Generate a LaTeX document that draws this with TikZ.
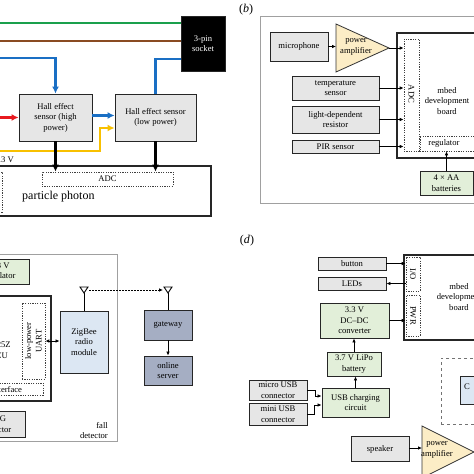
\documentclass[tikz,border=0pt]{standalone}
\usepackage{fontspec}
\setmainfont{Liberation Serif}
\usetikzlibrary{arrows.meta,calc}
\definecolor{boxgray}{HTML}{E6E6E6}
\definecolor{boxgreen}{HTML}{E2EFD9}
\definecolor{boxblue}{HTML}{DCE7F3}
\definecolor{ampyellow}{HTML}{FCEDC6}
\definecolor{slate}{HTML}{A5AEC3}
\definecolor{framegray}{HTML}{A0A0A0}
\definecolor{cgreen}{HTML}{1AA04C}
\definecolor{cbrown}{HTML}{8A4B22}
\definecolor{cblue}{HTML}{1A6FC4}
\definecolor{cred}{HTML}{E8191F}
\definecolor{cyellow}{HTML}{F8C000}
\newcommand\fsz{\fontsize{8.6}{10.5}\selectfont}
\newcommand\flg{\fontsize{12}{14}\selectfont}
\begin{document}
\begin{tikzpicture}[x=1pt,y=-1pt,
  box/.style={draw=black!85, line width=0.9pt, align=center, inner sep=1pt, font=\fsz},
  gbox/.style={box, fill=boxgray},
  grbox/.style={box, fill=boxgreen},
  bbox/.style={box, fill=boxblue},
  sz/.style 2 args={minimum width=#1pt, minimum height=#2pt},
  dotbox/.style={draw=black!75, dash pattern=on 1.2pt off 1.2pt, line width=0.7pt, inner sep=0pt},
  frame/.style={draw=framegray, line width=0.9pt, inner sep=0pt},
  txt/.style={font=\fsz, align=center, inner sep=0pt},
  wire/.style={line width=2.4pt},
  warr/.style={-{Latex[length=7pt,width=7pt]}},
  barr/.style={line width=2.2pt, -{Latex[length=7pt,width=7pt]}},
  arr/.style={line width=1pt, -{Latex[length=4pt,width=3.6pt]}},
  darr/.style={line width=1pt, {Latex[length=4pt,width=3.6pt]}-{Latex[length=4pt,width=3.6pt]}},
  dotarr/.style={line width=0.9pt, dash pattern=on 1.5pt off 1.5pt, -{Latex[length=4pt,width=3.6pt]}},
  antst/.style={draw=black, line width=0.9pt, fill=white},
  ampst/.style={draw=black!80, line width=0.8pt, fill=ampyellow}
]
\useasboundingbox (0,0) rectangle (474,474);
\clip (0,0) rectangle (474,474);
\fill[white] (0,0) rectangle (474,474);

% ---------------- panel (a) ----------------
\node[gbox, fill=black, text=white, sz={44}{55}] (socket) at (203,43.5) {3-pin\\socket};
\node[gbox, sz={73}{47}] (hallh) at (55.5,117.5) {Hall effect\\sensor (high\\power)};
\node[gbox, sz={81}{47}] (halll) at (155.5,117.5) {Hall effect sensor\\(low power)};
\node[box, line width=1.1pt, fill=white, sz={241}{50}] (photon) at (90.5,191) {};
\node[dotbox, sz={131}{14}, font=\fsz] (adca) at (107.5,179) {ADC};
\node[dotbox, sz={20}{40}] (leftdot) at (-8,192) {};
\node[font=\flg, anchor=west, inner sep=0pt] (pplabel) at (22,197) {particle photon};
\node[font=\fsz, anchor=east, inner sep=0pt] (v33) at (14,159.5) {3.3 V};

\coordinate (gin) at (-5,23);
\coordinate (brin) at (-5,41);
\coordinate (blin) at (-5,58);
\coordinate (rin) at (-5,117.5);
\coordinate (yin) at (-5,151);
\coordinate (ybend) at (100,151);
\draw[wire, cgreen] (gin) -- (gin -| socket.west);
\draw[wire, cbrown] (brin) -- (brin -| socket.west);
\draw[wire, cblue, warr] (blin) -| (hallh.north);
\draw[wire, cblue] (socket.west |- 0,59) -| (halll.north);
\draw[wire, cred, warr] (rin) -- (hallh.west);
\draw[wire, cblue, warr] (hallh.east |- 0,115.5) -- (halll.west |- 0,115.5);
\draw[wire, cyellow, warr] (yin) -- (ybend) |- (halll.west |- 0,128);
\draw[barr] (hallh.south) -- (hallh.south |- adca.north);
\draw[barr] (halll.south) -- (halll.south |- adca.north);

% ---------------- panel (b) ----------------
\node[font=\flg, inner sep=0pt] (lb) at (246,10) {(\textit{b})};
\node[frame, sz={230}{187}] (bframe) at (375,109.5) {};
\node[gbox, sz={58}{29}] (mic) at (299,46.5) {microphone};
\draw[ampst] (336,24) -- (389,48) -- (336,72) -- cycle;
\coordinate (ampbin) at (336,46.5);
\coordinate (ampbout) at (389,48);
\node[txt] (ampbt) at (356,47) {power\\amplifier};
\node[box, line width=1.2pt, fill=white, sz={93}{125}] (mbedb) at (443.5,95.5) {};
\node[dotbox, sz={15}{112}] (adcb) at (411.5,95) {};
\node[txt, rotate=-90] (adcbt) at (411.5,94) {ADC};
\node[txt] (mbedbt) at (447,101) {mbed\\development\\board};
\node[dotbox, sz={70}{15}] (regb) at (455,143.5) {};
\node[txt] (regbt) at (444,143.5) {regulator};
\node[gbox, sz={87}{24}] (temp) at (335.5,88) {temperature\\sensor};
\node[gbox, sz={87}{27}] (ldr) at (335.5,119.5) {light-dependent\\resistor};
\node[gbox, sz={87}{13}] (pir) at (335.5,146.5) {PIR sensor};
\node[grbox, sz={53}{24}] (batt) at (446.5,183) {4 × AA\\batteries};
\draw[arr] (mic.east) -- (ampbin);
\draw[arr] (ampbout) -- (ampbout -| adcb.west);
\draw[arr] (temp.east) -- (temp.east -| adcb.west);
\draw[arr] (ldr.east) -- (ldr.east -| adcb.west);
\draw[arr] (pir.east) -- (pir.east -| adcb.west);
\draw[arr] (batt.north) -- (batt.north |- regb.south);

% ---------------- panel (c) ----------------
\node[frame, sz={140}{187}] (cframe) at (47,347.5) {};
\node[grbox, sz={59}{25}] (reg) at (0,271.5) {3.3 V\\regulator};
\node[box, line width=1.1pt, fill=white, sz={81}{105}] (mcu) at (10.5,348.5) {};
\node[txt] (mcut) at (-2,350) {KL25Z\\MCU};
\node[dotbox, sz={23}{76}] (uart) at (33.5,341) {};
\node[txt, rotate=90] (uartt) at (33.5,341) {low-power\\UART};
\node[dotbox, sz={73}{12}] (intf) at (6.5,389) {};
\node[txt] (intft) at (7,389.5) {interface};
\node[gbox, sz={55}{26}] (ecg) at (-2.5,424) {ECG\\detector};
\node[bbox, sz={48}{62}] (zig) at (84,342) {ZigBee\\radio\\module};
\draw[darr] (uart.east) -- (uart.east -| zig.west);
\coordinate (ant1) at (84,293);
\coordinate (ant2) at (168,293);
\draw[line width=1pt] (ant1) -- (zig.north);
\draw[antst] (80,287) -- (88,287) -- (ant1) -- cycle;
\node[box, fill=slate, sz={48}{30}] (gw) at (168,325) {gateway};
\node[box, fill=slate, sz={48}{29}] (srv) at (168,370.5) {online\\server};
\draw[line width=1pt] (ant2) -- (gw.north);
\draw[antst] (164,287) -- (172,287) -- (ant2) -- cycle;
\coordinate (a1r) at (89,290);
\coordinate (a2l) at (163,290);
\draw[dotarr] (a1r) -- (a2l);
\draw[arr] (gw.south) -- (srv.north);
\node[txt, align=right, anchor=south east] (fall) at (108,439) {fall\\detector};

% ---------------- panel (d) ----------------
\node[font=\flg, inner sep=0pt] (ld) at (247,241) {(\textit{d})};
\node[gbox, sz={68}{13}] (button) at (352,263.5) {button};
\node[gbox, sz={68}{13}] (leds) at (352,283.5) {LEDs};
\node[box, line width=1.1pt, fill=white, sz={96}{85}] (mbedd) at (452,297.5) {};
\node[txt] (mbeddt) at (459,297) {mbed\\development\\board};
\node[dotbox, sz={14}{34}] (io) at (413,274) {};
\node[txt, rotate=-90] (iot) at (413,274) {I/O};
\node[dotbox, sz={14}{41}] (pwr) at (413,315.5) {};
\node[txt, rotate=-90] (pwrt) at (413,315.5) {PWR};
\node[grbox, sz={69}{35}] (conv) at (354.5,320.5) {3.3 V\\DC–DC\\converter};
\node[grbox, sz={54}{24}] (lipo) at (354,364) {3.7 V LiPo\\battery};
\node[grbox, sz={67}{29}] (usbc) at (355.5,402.5) {USB charging\\circuit};
\node[gbox, sz={58}{20}] (micro) at (278,390) {micro USB\\connector};
\node[gbox, sz={58}{22}] (mini) at (278,414) {mini USB\\connector};
\node[draw=black!55, dashed, line width=0.8pt, sz={70}{66}, inner sep=0pt] (cbox) at (476,391) {};
\node[bbox, sz={40}{28}] (cmod) at (480,390) {};
\node[txt, anchor=west] (cmodt) at (464,387) {C};
\node[gbox, sz={58}{25}] (spk) at (380,449) {speaker};
\draw[ampst] (422,426) -- (474,452) -- (422,478) -- cycle;
\coordinate (ampdin) at (422,448);
\node[txt] (ampdt) at (437,450) {power\\amplifier};
\draw[arr] (button.east) -- (button.east -| io.west);
\draw[arr] (io.west |- leds.east) -- (leds.east);
\draw[arr] (conv.east) -- (conv.east -| pwr.west);
\draw[arr] (lipo.north) -- (lipo.north |- conv.south);
\draw[arr] (usbc.north) -- (usbc.north |- lipo.south);
\draw[arr] (micro.east) -- ++(8,0) |- (usbc.west |- 0,396);
\draw[arr] (mini.east) -- ++(7,0) |- (usbc.west |- 0,405);
\draw[arr] (spk.east |- ampdin) -- (ampdin);
\end{tikzpicture}
\end{document}
